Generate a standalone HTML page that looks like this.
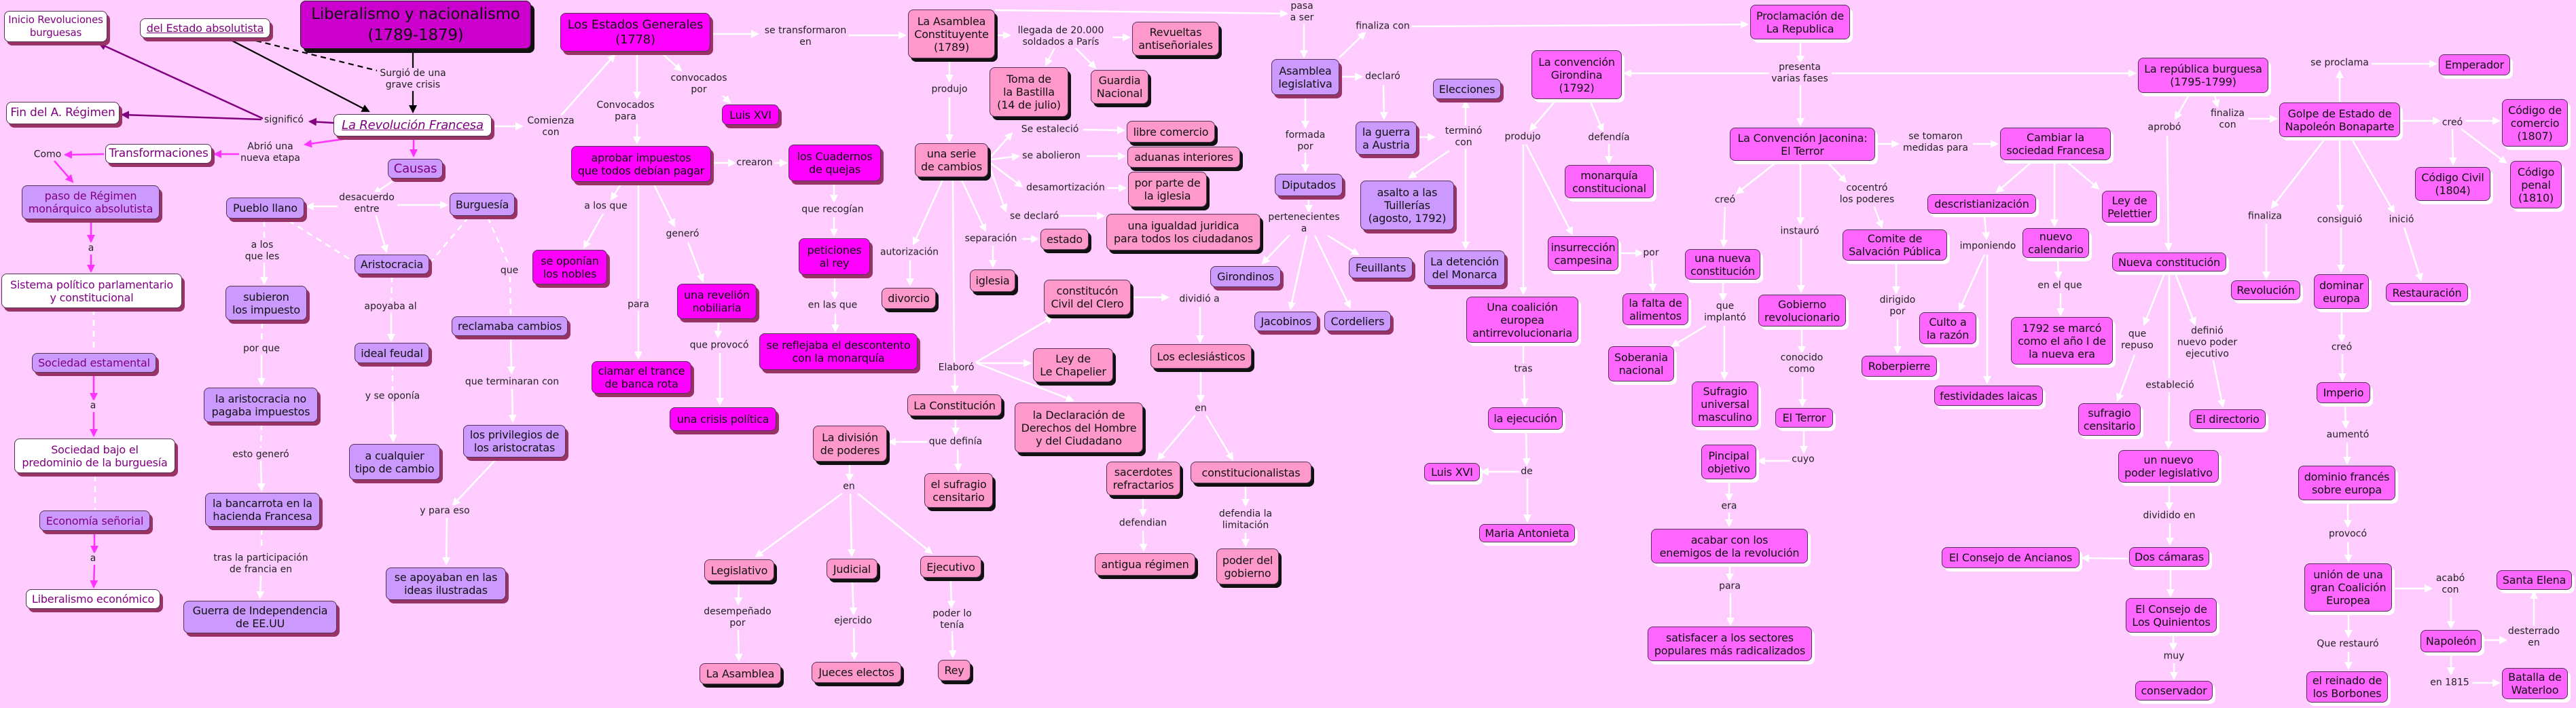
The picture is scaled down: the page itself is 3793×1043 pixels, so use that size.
<!DOCTYPE html>
<html><head><meta charset="utf-8">
<style>
html,body{margin:0;padding:0}
body{width:3793px;height:1043px;background:#ffccff;position:relative;overflow:hidden;font-family:"DejaVu Sans","Liberation Sans",sans-serif}
svg{position:absolute;left:0;top:0}
.n{position:absolute;box-sizing:border-box;display:flex;align-items:center;justify-content:center;text-align:center;font-size:16px;line-height:19px;border:1px solid #553355;border-radius:8px;color:#111;white-space:nowrap;letter-spacing:-0.2px}
.w{background:#fff;color:#800080;box-shadow:4px 5px 0 #993366}
.l{background:#cc99ff;box-shadow:4px 5px 0 #993366}
.lp{background:#cc99ff;color:#800080;box-shadow:4px 5px 0 #993366}
.m{background:#ff00ff;box-shadow:4px 5px 0 #993366}
.p{background:#ff99cc;box-shadow:4px 5px 0 #111}
.r{background:#ff66ff;box-shadow:4px 5px 0 #fff}
.t{background:#cc00cc;box-shadow:5px 6px 0 #111;font-size:23px;line-height:31px;border:1px solid #222}
.lb{position:absolute;transform:translate(-50%,-50%);font-size:14px;line-height:17px;color:#222;text-align:center;white-space:nowrap;background:#ffccff;padding:0 2px}
</style></head><body>
<svg width="3793" height="1043" viewBox="0 0 3793 1043">
<defs>
<marker id="aw" markerWidth="12" markerHeight="12" refX="10" refY="6" orient="auto" markerUnits="userSpaceOnUse"><path d="M0,0 L12,6 L0,12 z" fill="#fff"/></marker>
<marker id="am" markerWidth="12" markerHeight="12" refX="10" refY="6" orient="auto" markerUnits="userSpaceOnUse"><path d="M0,0 L12,6 L0,12 z" fill="#ff33ff"/></marker>
<marker id="ap" markerWidth="12" markerHeight="12" refX="10" refY="6" orient="auto" markerUnits="userSpaceOnUse"><path d="M0,0 L12,6 L0,12 z" fill="#800080"/></marker>
<marker id="ab" markerWidth="12" markerHeight="12" refX="10" refY="6" orient="auto" markerUnits="userSpaceOnUse"><path d="M0,0 L12,6 L0,12 z" fill="#000"/></marker>
</defs>
<g stroke="#000" stroke-width="2.2" fill="none">
<path d="M608 72 L608 104"/>
<path d="M608 130 L608 165" marker-end="url(#ab)"/>
<path d="M338 58 L543 164" marker-end="url(#ab)"/>
<path d="M377 60 L555 104" stroke-dasharray="8 6"/>
</g>
<g stroke="#800080" stroke-width="2.5" fill="none">
<path d="M388 175 L146 64" marker-end="url(#ap)"/>
<path d="M491 181 L456 179" marker-end="url(#ap)"/>
<path d="M385 176 L180 169" marker-end="url(#ap)"/>
</g>
<g stroke="#ff33ff" stroke-width="2.5" fill="none">
<path d="M512 204 L449 213" marker-end="url(#am)"/>
<path d="M353 227 L316 227" marker-end="url(#am)"/>
<path d="M153 227 L96 228" marker-end="url(#am)"/>
<path d="M80 237 L107 268" marker-end="url(#am)"/>
<path d="M134 324 L134 356" marker-end="url(#am)"/>
<path d="M134 375 L134 400" marker-end="url(#am)"/>
<path d="M138 550 L138 589" marker-end="url(#am)"/>
<path d="M138 607 L138 642" marker-end="url(#am)"/>
<path d="M139 784 L139 814" marker-end="url(#am)"/>
<path d="M139 832 L138 865" marker-end="url(#am)"/>
<path d="M609 204 L609 230" marker-end="url(#am)"/>
</g>
<g stroke="#fff" stroke-width="2.5" fill="none" marker-end="url(#aw)">
<path d="M726 186 L769 186"/>
<path d="M826 170 L905 81"/>
<path d="M578 267 L551 285"/>
<path d="M500 304 L452 304"/>
<path d="M585 302 L658 302"/>
<path d="M553 315 L569 371"/>
<path d="M389 383 L389 418"/>
<path d="M576 460 L576 502"/>
<path d="M385 522 L385 567"/>
<path d="M578 592 L579 650"/>
<path d="M752 498 L753 550"/>
<path d="M754 573 L755 621"/>
<path d="M384 678 L385 722"/>
<path d="M730 677 L667 744"/>
<path d="M658 763 L657 831"/>
<path d="M384 848 L383 881"/>
<path d="M1048 50 L1116 50"/>
<path d="M1250 52 L1333 52"/>
<path d="M975 79 L1003 104"/>
<path d="M1063 140 L1075 151"/>
<path d="M938 79 L938 145"/>
<path d="M938 182 L938 211"/>
<path d="M1049 240 L1082 240"/>
<path d="M1140 240 L1158 240"/>
<path d="M915 270 L900 294"/>
<path d="M888 315 L860 365"/>
<path d="M962 270 L993 333"/>
<path d="M1013 357 L1035 414"/>
<path d="M940 458 L940 528"/>
<path d="M1058 473 L1057 497"/>
<path d="M1060 520 L1060 596"/>
<path d="M1228 270 L1228 297"/>
<path d="M1228 320 L1228 347"/>
<path d="M1229 407 L1229 440"/>
<path d="M1230 462 L1230 488"/>
<path d="M1465 15 L1895 20"/>
<path d="M1920 34 L1920 84"/>
<path d="M1467 52 L1487 52"/>
<path d="M1638 55 L1663 55"/>
<path d="M1553 70 L1540 96"/>
<path d="M1583 70 L1613 100"/>
<path d="M1398 89 L1398 120"/>
<path d="M1398 143 L1398 208"/>
<path d="M1458 232 L1490 196"/>
<path d="M1595 191 L1655 192"/>
<path d="M1458 235 L1500 230"/>
<path d="M1600 230 L1656 230"/>
<path d="M1458 240 L1505 275"/>
<path d="M1630 277 L1657 277"/>
<path d="M1457 245 L1481 311"/>
<path d="M1560 318 L1625 318"/>
<path d="M1415 263 L1451 340"/>
<path d="M1505 352 L1528 352"/>
<path d="M1462 362 L1462 393"/>
<path d="M1389 263 L1345 360"/>
<path d="M1340 383 L1340 420"/>
<path d="M1406 550 L1406 578"/>
<path d="M1437 534 L1550 467"/>
<path d="M1438 535 L1517 535"/>
<path d="M1438 535 L1580 590"/>
<path d="M1668 438 L1720 438"/>
<path d="M1767 452 L1767 504"/>
<path d="M1768 545 L1768 592"/>
<path d="M1760 612 L1705 677"/>
<path d="M1776 612 L1815 677"/>
<path d="M1683 733 L1683 760"/>
<path d="M1683 782 L1684 811"/>
<path d="M1834 715 L1834 745"/>
<path d="M1834 785 L1834 804"/>
<path d="M1407 615 L1407 640"/>
<path d="M1368 651 L1309 651"/>
<path d="M1410 662 L1411 693"/>
<path d="M1251 682 L1251 708"/>
<path d="M1240 727 L1113 820"/>
<path d="M1252 727 L1254 819"/>
<path d="M1263 727 L1372 815"/>
<path d="M1088 860 L1087 890"/>
<path d="M1087 928 L1088 973"/>
<path d="M1255 857 L1257 905"/>
<path d="M1257 925 L1258 971"/>
<path d="M1400 855 L1401 895"/>
<path d="M1402 930 L1403 968"/>
<path d="M1972 85 L2010 48"/>
<path d="M2065 39 L2573 36"/>
<path d="M1972 113 L2005 113"/>
<path d="M2037 125 L2038 175"/>
<path d="M1922 142 L1922 188"/>
<path d="M1922 222 L1922 252"/>
<path d="M1927 292 L1927 312"/>
<path d="M1900 345 L1859 388"/>
<path d="M1924 347 L1900 455"/>
<path d="M1936 347 L1988 453"/>
<path d="M1955 347 L2000 375"/>
<path d="M2088 202 L2112 202"/>
<path d="M2134 222 L2075 262"/>
<path d="M2158 190 L2158 149"/>
<path d="M2158 215 L2158 366"/>
<path d="M2289 150 L2253 192"/>
<path d="M2342 150 L2360 193"/>
<path d="M2369 212 L2369 240"/>
<path d="M2243 213 L2243 433"/>
<path d="M2247 213 L2315 345"/>
<path d="M2385 373 L2418 373"/>
<path d="M2432 383 L2434 428"/>
<path d="M2651 60 L2651 92"/>
<path d="M2605 108 L2392 108"/>
<path d="M2697 108 L3144 108"/>
<path d="M2651 120 L2651 184"/>
<path d="M2617 238 L2557 285"/>
<path d="M2540 305 L2538 363"/>
<path d="M2651 238 L2651 330"/>
<path d="M2652 350 L2652 430"/>
<path d="M2690 238 L2718 268"/>
<path d="M2760 305 L2771 335"/>
<path d="M2763 212 L2795 212"/>
<path d="M2905 212 L2941 212"/>
<path d="M2792 387 L2792 432"/>
<path d="M2794 470 L2794 520"/>
<path d="M2537 415 L2537 442"/>
<path d="M2512 480 L2462 510"/>
<path d="M2539 480 L2539 558"/>
<path d="M2244 552 L2245 597"/>
<path d="M2247 636 L2248 685"/>
<path d="M2240 695 L2182 695"/>
<path d="M2249 705 L2249 768"/>
<path d="M2653 484 L2653 520"/>
<path d="M2654 555 L2654 598"/>
<path d="M2656 633 L2656 667"/>
<path d="M2637 679 L2589 679"/>
<path d="M2546 710 L2546 737"/>
<path d="M2546 755 L2546 775"/>
<path d="M2547 833 L2547 855"/>
<path d="M2548 874 L2548 920"/>
<path d="M2990 240 L2940 283"/>
<path d="M3025 240 L3025 333"/>
<path d="M3045 240 L3090 278"/>
<path d="M2922 318 L2925 352"/>
<path d="M2922 375 L2885 457"/>
<path d="M2926 375 L2926 564"/>
<path d="M3030 383 L3031 410"/>
<path d="M3034 432 L3034 464"/>
<path d="M3223 140 L3203 175"/>
<path d="M3191 200 L3193 368"/>
<path d="M3261 140 L3265 157"/>
<path d="M3310 175 L3352 175"/>
<path d="M3445 150 L3445 105"/>
<path d="M3492 94 L3587 94"/>
<path d="M3537 178 L3592 178"/>
<path d="M3630 178 L3680 178"/>
<path d="M3611 190 L3612 242"/>
<path d="M3624 190 L3690 240"/>
<path d="M3423 205 L3345 306"/>
<path d="M3337 330 L3337 410"/>
<path d="M3445 205 L3446 312"/>
<path d="M3447 335 L3447 400"/>
<path d="M3463 205 L3525 313"/>
<path d="M3540 335 L3565 413"/>
<path d="M3187 403 L3157 478"/>
<path d="M3143 523 L3118 590"/>
<path d="M3194 578 L3193 660"/>
<path d="M3203 403 L3232 478"/>
<path d="M3258 527 L3273 599"/>
<path d="M3448 458 L3448 503"/>
<path d="M3449 522 L3449 560"/>
<path d="M3453 597 L3454 630"/>
<path d="M3456 652 L3456 683"/>
<path d="M3457 740 L3457 776"/>
<path d="M3457 798 L3458 827"/>
<path d="M3194 714 L3194 750"/>
<path d="M3195 771 L3195 802"/>
<path d="M3133 823 L3066 822"/>
<path d="M3196 838 L3196 878"/>
<path d="M3200 935 L3200 957"/>
<path d="M3201 977 L3201 1000"/>
<path d="M3525 867 L3580 867"/>
<path d="M3609 880 L3609 925"/>
<path d="M3458 905 L3458 938"/>
<path d="M3458 960 L3458 985"/>
<path d="M3657 943 L3690 943"/>
<path d="M3731 925 L3731 872"/>
<path d="M3609 965 L3609 993"/>
<path d="M3640 1006 L3680 1006"/>
</g>
<g stroke="#fff" stroke-width="2.5" fill="none">
<path d="M940 270 L940 440"/>
<path d="M1403 263 L1405 535"/>
<path d="M2243 508 L2243 535"/>
<path d="M3194 403 L3194 557"/>
</g>
<g stroke="#fff" stroke-width="2.5" fill="none" stroke-dasharray="9 7">
<path d="M138 455 L138 518"/>
<path d="M140 700 L140 751"/>
<path d="M389 325 L389 356"/>
<path d="M425 325 L520 385"/>
<path d="M690 320 L635 385"/>
<path d="M718 320 L750 392"/>
<path d="M751 407 L752 463"/>
<path d="M577 407 L576 445"/>
<path d="M386 475 L385 505"/>
<path d="M578 537 L578 575"/>
<path d="M385 625 L384 660"/>
<path d="M385 779 L385 812"/>
</g>
</svg>

<div class="n w" style="left:6px;top:16px;width:152px;height:46px;font-size:15px">Inicio Revoluciones<br>burguesas</div>
<div class="n w" style="left:206px;top:27px;width:192px;height:29px;text-decoration:underline">del Estado absolutista</div>
<div class="n t" style="left:442px;top:1px;width:340px;height:71px">Liberalismo y nacionalismo<br>(1789-1879)</div>
<div class="n m" style="left:825px;top:19px;width:221px;height:57px;font-size:18px;line-height:22px">Los Estados Generales<br>(1778)</div>
<div class="n w" style="left:9px;top:150px;width:167px;height:33px;font-size:17px">Fin del A. Régimen</div>
<div class="n w" style="left:491px;top:168px;width:233px;height:33px;font-size:18px;font-style:italic;text-decoration:underline">La Revolución Francesa</div>
<div class="n w" style="left:155px;top:212px;width:157px;height:29px;font-size:17px">Transformaciones</div>
<div class="n lp" style="left:571px;top:234px;width:81px;height:29px;font-size:18px">Causas</div>
<div class="n lp" style="left:32px;top:273px;width:203px;height:50px">paso de Régimen<br>monárquico absolutista</div>
<div class="n l" style="left:333px;top:291px;width:115px;height:31px">Pueblo llano</div>
<div class="n l" style="left:662px;top:284px;width:96px;height:34px">Burguesía</div>
<div class="n l" style="left:522px;top:375px;width:110px;height:29px">Aristocracia</div>
<div class="n m" style="left:784px;top:368px;width:110px;height:51px">se oponían<br>los nobles</div>
<div class="n w" style="left:2px;top:403px;width:266px;height:51px">Sistema político parlamentario<br>y constitucional</div>
<div class="n l" style="left:332px;top:421px;width:120px;height:51px">subieron<br>los impuesto</div>
<div class="n l" style="left:665px;top:466px;width:171px;height:29px">reclamaba cambios</div>
<div class="n l" style="left:522px;top:505px;width:110px;height:30px">ideal feudal</div>
<div class="n lp" style="left:47px;top:520px;width:183px;height:29px">Sociedad estamental</div>
<div class="n l" style="left:300px;top:571px;width:168px;height:51px">la aristocracia no<br>pagaba impuestos</div>
<div class="n l" style="left:514px;top:654px;width:134px;height:53px">a cualquier<br>tipo de cambio</div>
<div class="n l" style="left:682px;top:626px;width:151px;height:48px">los privilegios de<br>los aristocratas</div>
<div class="n w" style="left:21px;top:646px;width:237px;height:51px">Sociedad bajo el<br>predominio de la burguesía</div>
<div class="n l" style="left:302px;top:726px;width:169px;height:50px">la bancarrota en la<br>hacienda Francesa</div>
<div class="n lp" style="left:58px;top:752px;width:163px;height:30px">Economía señorial</div>
<div class="n l" style="left:568px;top:836px;width:177px;height:48px">se apoyaban en las<br>ideas ilustradas</div>
<div class="n w" style="left:38px;top:868px;width:198px;height:29px">Liberalismo económico</div>
<div class="n l" style="left:270px;top:885px;width:226px;height:48px">Guerra de Independencia<br>de EE.UU</div>
<div class="n m" style="left:871px;top:532px;width:147px;height:48px">clamar el trance<br>de banca rota</div>
<div class="n p" style="left:1337px;top:14px;width:128px;height:72px">La Asamblea<br>Constituyente<br>(1789)</div>
<div class="n p" style="left:1667px;top:32px;width:128px;height:50px">Revueltas<br>antiseñoriales</div>
<div class="n p" style="left:1457px;top:99px;width:116px;height:73px">Toma de<br>la Bastilla<br>(14 de julio)</div>
<div class="n p" style="left:1606px;top:103px;width:85px;height:50px">Guardia<br>Nacional</div>
<div class="n m" style="left:1063px;top:154px;width:84px;height:30px">Luis XVI</div>
<div class="n p" style="left:1659px;top:178px;width:130px;height:32px">libre comercio</div>
<div class="n m" style="left:841px;top:215px;width:206px;height:53px">aprobar impuestos<br>que todos debían pagar</div>
<div class="n m" style="left:1161px;top:213px;width:136px;height:54px">los Cuadernos<br>de quejas</div>
<div class="n p" style="left:1347px;top:211px;width:108px;height:50px">una serie<br>de cambios</div>
<div class="n p" style="left:1660px;top:216px;width:166px;height:31px">aduanas interiores</div>
<div class="n p" style="left:1661px;top:253px;width:116px;height:52px">por parte de<br>la iglesia</div>
<div class="n p" style="left:1629px;top:315px;width:227px;height:54px">una igualdad juridica<br>para todos los ciudadanos</div>
<div class="n p" style="left:1532px;top:337px;width:71px;height:31px">estado</div>
<div class="n m" style="left:1176px;top:351px;width:105px;height:54px">peticiones<br>al rey</div>
<div class="n p" style="left:1428px;top:397px;width:67px;height:33px">iglesia</div>
<div class="n l" style="left:1782px;top:392px;width:104px;height:31px">Girondinos</div>
<div class="n p" style="left:1537px;top:412px;width:128px;height:52px">constitucón<br>Civil del Clero</div>
<div class="n m" style="left:997px;top:418px;width:117px;height:52px">una revelión<br>nobiliaria</div>
<div class="n p" style="left:1298px;top:424px;width:80px;height:31px">divorcio</div>
<div class="n m" style="left:1118px;top:491px;width:233px;height:54px">se reflejaba el descontento<br>con la monarquía</div>
<div class="n l" style="left:1847px;top:459px;width:93px;height:29px">Jacobinos</div>
<div class="n l" style="left:1950px;top:458px;width:98px;height:30px">Cordeliers</div>
<div class="n p" style="left:1521px;top:513px;width:118px;height:50px">Ley de<br>Le Chapelier</div>
<div class="n p" style="left:1694px;top:507px;width:149px;height:36px">Los eclesiásticos</div>
<div class="n m" style="left:986px;top:600px;width:157px;height:35px">una crisis política</div>
<div class="n p" style="left:1336px;top:581px;width:139px;height:32px">La Constitución</div>
<div class="n p" style="left:1494px;top:593px;width:189px;height:74px">la Declaración de<br>Derechos del Hombre<br>y del Ciudadano</div>
<div class="n p" style="left:1197px;top:627px;width:109px;height:53px">La división<br>de poderes</div>
<div class="n p" style="left:1361px;top:697px;width:101px;height:51px">el sufragio<br>censitario</div>
<div class="n p" style="left:1629px;top:680px;width:109px;height:50px">sacerdotes<br>refractarios</div>
<div class="n p" style="left:1753px;top:680px;width:178px;height:32px">constitucionalistas</div>
<div class="n p" style="left:1037px;top:824px;width:103px;height:32px">Legislativo</div>
<div class="n p" style="left:1217px;top:823px;width:75px;height:30px">Judicial</div>
<div class="n p" style="left:1355px;top:819px;width:90px;height:32px">Ejecutivo</div>
<div class="n p" style="left:1612px;top:815px;width:148px;height:33px">antigua régimen</div>
<div class="n p" style="left:1791px;top:808px;width:92px;height:53px">poder del<br>gobierno</div>
<div class="n p" style="left:1030px;top:977px;width:120px;height:31px">La Asamblea</div>
<div class="n p" style="left:1195px;top:975px;width:132px;height:31px">Jueces electos</div>
<div class="n p" style="left:1381px;top:972px;width:48px;height:31px">Rey</div>
<div class="n r" style="left:2577px;top:7px;width:147px;height:51px">Proclamación de<br>La Republica</div>
<div class="n l" style="left:1872px;top:87px;width:100px;height:53px">Asamblea<br>legislativa</div>
<div class="n r" style="left:2255px;top:74px;width:133px;height:72px">La convención<br>Girondina<br>(1792)</div>
<div class="n l" style="left:2110px;top:116px;width:100px;height:30px">Elecciones</div>
<div class="n l" style="left:1996px;top:179px;width:90px;height:49px">la guerra<br>a Austria</div>
<div class="n r" style="left:2547px;top:188px;width:214px;height:49px">La Convención Jaconina:<br>El Terror</div>
<div class="n l" style="left:1877px;top:256px;width:100px;height:33px">Diputados</div>
<div class="n r" style="left:2304px;top:243px;width:131px;height:49px">monarquía<br>constitucional</div>
<div class="n l" style="left:2003px;top:266px;width:138px;height:73px">asalto a las<br>Tuillerías<br>(agosto, 1792)</div>
<div class="n r" style="left:2713px;top:338px;width:154px;height:46px">Comite de<br>Salvación Pública</div>
<div class="n r" style="left:2279px;top:348px;width:104px;height:51px">insurrección<br>campesina</div>
<div class="n r" style="left:2481px;top:367px;width:111px;height:45px">una nueva<br>constitución</div>
<div class="n l" style="left:1986px;top:379px;width:94px;height:31px">Feuillants</div>
<div class="n l" style="left:2097px;top:369px;width:119px;height:52px">La detención<br>del Monarca</div>
<div class="n r" style="left:2159px;top:437px;width:165px;height:68px">Una coalición<br>europea<br>antirrevolucionaria</div>
<div class="n r" style="left:2389px;top:432px;width:97px;height:47px">la falta de<br>alimentos</div>
<div class="n r" style="left:2589px;top:434px;width:129px;height:47px">Gobierno<br>revolucionario</div>
<div class="n r" style="left:2368px;top:510px;width:97px;height:52px">Soberania<br>nacional</div>
<div class="n r" style="left:2491px;top:562px;width:98px;height:67px">Sufragio<br>universal<br>masculino</div>
<div class="n r" style="left:2614px;top:601px;width:85px;height:29px">El Terror</div>
<div class="n r" style="left:2741px;top:524px;width:111px;height:31px">Roberpierre</div>
<div class="n r" style="left:2191px;top:600px;width:110px;height:33px">la ejecución</div>
<div class="n r" style="left:2505px;top:655px;width:81px;height:51px">Pincipal<br>objetivo</div>
<div class="n r" style="left:2097px;top:682px;width:82px;height:27px">Luis XVI</div>
<div class="n r" style="left:2178px;top:772px;width:141px;height:27px">Maria Antonieta</div>
<div class="n r" style="left:2431px;top:779px;width:231px;height:51px">acabar con los<br>enemigos de la revolución</div>
<div class="n r" style="left:2426px;top:923px;width:242px;height:51px">satisfacer a los sectores<br>populares más radicalizados</div>
<div class="n r" style="left:3148px;top:85px;width:192px;height:52px">La república burguesa<br>(1795-1799)</div>
<div class="n r" style="left:3591px;top:80px;width:105px;height:31px">Emperador</div>
<div class="n r" style="left:3356px;top:151px;width:178px;height:51px">Golpe de Estado de<br>Napoleón Bonaparte</div>
<div class="n r" style="left:3684px;top:146px;width:97px;height:70px">Código de<br>comercio<br>(1807)</div>
<div class="n r" style="left:2945px;top:188px;width:163px;height:48px">Cambiar la<br>sociedad Francesa</div>
<div class="n r" style="left:3556px;top:246px;width:111px;height:50px">Código Civil<br>(1804)</div>
<div class="n r" style="left:3696px;top:237px;width:76px;height:70px">Código<br>penal<br>(1810)</div>
<div class="n r" style="left:2838px;top:286px;width:160px;height:29px">descristianización</div>
<div class="n r" style="left:3095px;top:281px;width:81px;height:47px">Ley de<br>Pelettier</div>
<div class="n r" style="left:2978px;top:336px;width:98px;height:44px">nuevo<br>calendario</div>
<div class="n r" style="left:3110px;top:372px;width:168px;height:28px">Nueva constitución</div>
<div class="n r" style="left:3285px;top:413px;width:102px;height:29px">Revolución</div>
<div class="n r" style="left:3407px;top:404px;width:81px;height:51px">dominar<br>europa</div>
<div class="n r" style="left:3513px;top:417px;width:121px;height:28px">Restauración</div>
<div class="n r" style="left:2826px;top:460px;width:84px;height:47px">Culto a<br>la razón</div>
<div class="n r" style="left:2961px;top:467px;width:150px;height:70px">1792 se marcó<br>como el año I de<br>la nueva era</div>
<div class="n r" style="left:2848px;top:568px;width:160px;height:30px">festividades laicas</div>
<div class="n r" style="left:3060px;top:594px;width:92px;height:48px">sufragio<br>censitario</div>
<div class="n r" style="left:3224px;top:603px;width:112px;height:29px">El directorio</div>
<div class="n r" style="left:3411px;top:563px;width:79px;height:31px">Imperio</div>
<div class="n r" style="left:3119px;top:663px;width:148px;height:48px">un nuevo<br>poder legislativo</div>
<div class="n r" style="left:3384px;top:686px;width:143px;height:51px">dominio francés<br>sobre europa</div>
<div class="n r" style="left:2859px;top:806px;width:203px;height:31px">El Consejo de Ancianos</div>
<div class="n r" style="left:3135px;top:806px;width:118px;height:29px">Dos cámaras</div>
<div class="n r" style="left:3393px;top:830px;width:129px;height:71px">unión de una<br>gran Coalición<br>Europea</div>
<div class="n r" style="left:3676px;top:840px;width:111px;height:29px">Santa Elena</div>
<div class="n r" style="left:3130px;top:881px;width:134px;height:51px">El Consejo de<br>Los Quinientos</div>
<div class="n r" style="left:3564px;top:928px;width:90px;height:33px">Napoleón</div>
<div class="n r" style="left:3144px;top:1003px;width:114px;height:29px">conservador</div>
<div class="n r" style="left:3396px;top:989px;width:120px;height:46px">el reinado de<br>los Borbones</div>
<div class="n r" style="left:3684px;top:984px;width:97px;height:46px">Batalla de<br>Waterloo</div>

<div class="lb" style="left:608px;top:117px">Surgió de una<br>grave crisis</div>
<div class="lb" style="left:418px;top:177px">significó</div>
<div class="lb" style="left:811px;top:187px">Comienza<br>con</div>
<div class="lb" style="left:398px;top:225px">Abrió una<br>nueva etapa</div>
<div class="lb" style="left:70px;top:228px">Como</div>
<div class="lb" style="left:540px;top:300px">desacuerdo<br>entre</div>
<div class="lb" style="left:892px;top:304px">a los que</div>
<div class="lb" style="left:134px;top:366px">a</div>
<div class="lb" style="left:386px;top:370px">a los<br>que les</div>
<div class="lb" style="left:750px;top:399px">que</div>
<div class="lb" style="left:575px;top:452px">apoyaba al</div>
<div class="lb" style="left:940px;top:449px">para</div>
<div class="lb" style="left:385px;top:514px">por que</div>
<div class="lb" style="left:137px;top:598px">a</div>
<div class="lb" style="left:384px;top:670px">esto generó</div>
<div class="lb" style="left:578px;top:584px">y se oponía</div>
<div class="lb" style="left:754px;top:563px">que terminaran con</div>
<div class="lb" style="left:655px;top:753px">y para eso</div>
<div class="lb" style="left:137px;top:823px">a</div>
<div class="lb" style="left:384px;top:831px">tras la participación<br>de francia en</div>
<div class="lb" style="left:1186px;top:54px">se transformaron<br>en</div>
<div class="lb" style="left:1562px;top:54px">llegada de 20.000<br>soldados a París</div>
<div class="lb" style="left:1029px;top:124px">convocados<br>por</div>
<div class="lb" style="left:921px;top:164px">Convocados<br>para</div>
<div class="lb" style="left:1398px;top:132px">produjo</div>
<div class="lb" style="left:1546px;top:191px">Se estaleció</div>
<div class="lb" style="left:1111px;top:240px">crearon</div>
<div class="lb" style="left:1548px;top:230px">se abolieron</div>
<div class="lb" style="left:1569px;top:277px">desamortización</div>
<div class="lb" style="left:1226px;top:309px">que recogían</div>
<div class="lb" style="left:1523px;top:319px">se declaró</div>
<div class="lb" style="left:1005px;top:345px">generó</div>
<div class="lb" style="left:1459px;top:352px">separación</div>
<div class="lb" style="left:1339px;top:372px">autorización</div>
<div class="lb" style="left:1766px;top:441px">dividió a</div>
<div class="lb" style="left:1226px;top:450px">en las que</div>
<div class="lb" style="left:1059px;top:509px">que provocó</div>
<div class="lb" style="left:1408px;top:542px">Elaboró</div>
<div class="lb" style="left:1768px;top:602px">en</div>
<div class="lb" style="left:1407px;top:651px">que definía</div>
<div class="lb" style="left:1250px;top:717px">en</div>
<div class="lb" style="left:1683px;top:771px">defendian</div>
<div class="lb" style="left:1834px;top:766px">defendia la<br>limitación</div>
<div class="lb" style="left:1086px;top:910px">desempeñado<br>por</div>
<div class="lb" style="left:1256px;top:915px">ejercido</div>
<div class="lb" style="left:1402px;top:913px">poder lo<br>tenía</div>
<div class="lb" style="left:1917px;top:18px">pasa<br>a ser</div>
<div class="lb" style="left:2036px;top:39px">finaliza con</div>
<div class="lb" style="left:2036px;top:113px">declaró</div>
<div class="lb" style="left:2650px;top:108px">presenta<br>varias fases</div>
<div class="lb" style="left:2155px;top:202px">terminó<br>con</div>
<div class="lb" style="left:2242px;top:202px">produjo</div>
<div class="lb" style="left:2369px;top:203px">defendía</div>
<div class="lb" style="left:1922px;top:208px">formada<br>por</div>
<div class="lb" style="left:2850px;top:210px">se tomaron<br>medidas para</div>
<div class="lb" style="left:2540px;top:295px">creó</div>
<div class="lb" style="left:2749px;top:286px">cocentró<br>los poderes</div>
<div class="lb" style="left:1920px;top:329px">pertenecientes<br>a</div>
<div class="lb" style="left:2650px;top:341px">instauró</div>
<div class="lb" style="left:2431px;top:373px">por</div>
<div class="lb" style="left:2540px;top:460px">que<br>implantó</div>
<div class="lb" style="left:2794px;top:451px">dirigido<br>por</div>
<div class="lb" style="left:2243px;top:544px">tras</div>
<div class="lb" style="left:2653px;top:536px">conocido<br>como</div>
<div class="lb" style="left:2655px;top:677px">cuyo</div>
<div class="lb" style="left:2248px;top:695px">de</div>
<div class="lb" style="left:2546px;top:746px">era</div>
<div class="lb" style="left:2547px;top:864px">para</div>
<div class="lb" style="left:3445px;top:93px">se proclama</div>
<div class="lb" style="left:3280px;top:176px">finaliza<br>con</div>
<div class="lb" style="left:3187px;top:188px">aprobó</div>
<div class="lb" style="left:3611px;top:181px">creó</div>
<div class="lb" style="left:3335px;top:319px">finaliza</div>
<div class="lb" style="left:3445px;top:324px">consiguió</div>
<div class="lb" style="left:3536px;top:324px">inició</div>
<div class="lb" style="left:2927px;top:363px">imponiendo</div>
<div class="lb" style="left:3033px;top:421px">en el que</div>
<div class="lb" style="left:3147px;top:501px">que<br>repuso</div>
<div class="lb" style="left:3250px;top:505px">definió<br>nuevo poder<br>ejecutivo</div>
<div class="lb" style="left:3448px;top:512px">creó</div>
<div class="lb" style="left:3195px;top:568px">estableció</div>
<div class="lb" style="left:3457px;top:641px">aumentó</div>
<div class="lb" style="left:3194px;top:760px">dividido en</div>
<div class="lb" style="left:3457px;top:787px">provocó</div>
<div class="lb" style="left:3608px;top:861px">acabó<br>con</div>
<div class="lb" style="left:3731px;top:939px">desterrado<br>en</div>
<div class="lb" style="left:3457px;top:949px">Que restauró</div>
<div class="lb" style="left:3201px;top:967px">muy</div>
<div class="lb" style="left:3607px;top:1006px">en 1815</div>
</body></html>
